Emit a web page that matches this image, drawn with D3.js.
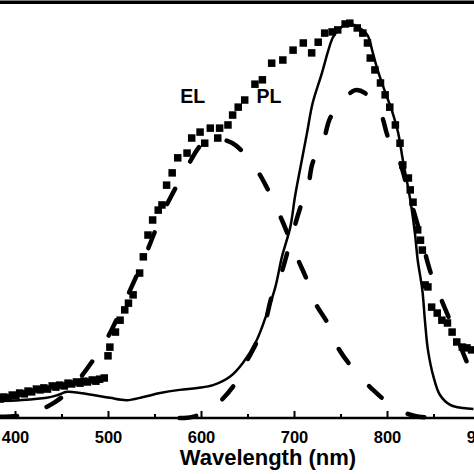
<!DOCTYPE html>
<html>
<head>
<meta charset="utf-8">
<script src="https://cdn.jsdelivr.net/npm/d3@7"></script>
<style>
  html, body { margin: 0; padding: 0; background: #fff; }
  svg { display: block; font-family: "Liberation Sans", Arial, sans-serif; font-weight: bold; }
</style>
</head>
<body>
<div id="chart"></div>
<script>
// [wavelength nm, intensity a.u.]
const EL_POINTS = [
  [384, .048], [388, .053], [393, .051], [397, .058], [401, .056], [405, .063], [410, .061], [414, .068],
  [418, .066], [423, .073], [427, .071], [431, .076], [435, .073], [440, .081], [444, .078], [448, .083],
  [453, .081], [457, .088], [461, .086], [466, .091], [470, .088], [474, .093], [478, .091], [483, .096],
  [487, .093], [491, .098], [496, .101],
  [500, .157], [502, .179], [508, .217], [513, .247], [518, .273], [522, .290], [527, .311], [534, .366],
  [538, .407], [543, .462], [548, .500], [554, .525], [558, .538], [563, .588], [569, .619], [575, .657],
  [585, .669], [590, .707], [599, .722], [604, .694], [610, .732], [618, .707], [620, .732], [629, .740],
  [634, .765], [640, .785], [647, .803], [658, .843], [666, .854], [676, .896], [688, .904], [699, .929],
  [710, .947], [719, .922], [726, .949], [733, .972], [741, .975], [747, .980], [755, .995], [760, .997],
  [768, .985], [774, .972], [779, .947], [782, .909], [787, .879], [793, .846], [798, .816], [803, .785],
  [809, .740], [814, .694], [817, .639], [823, .606], [825, .576], [828, .545], [833, .475], [836, .449],
  [838, .424], [841, .336], [844, .331], [848, .280], [854, .265], [859, .247], [865, .240], [870, .217],
  [875, .192], [881, .179], [886, .177], [891, .172],
];

const PL_POINTS = [
  [384, .043], [405, .045], [434, .051], [446, .058], [456, .066], [470, .063], [484, .058], [502, .051],
  [520, .045], [538, .053], [556, .063], [577, .071], [596, .076], [613, .083], [631, .104], [645, .139],
  [660, .197], [671, .265], [680, .331], [687, .407], [696, .482], [701, .558], [707, .634], [714, .720],
  [720, .795], [730, .871], [737, .929], [742, .962], [750, .985], [758, .997], [769, .987], [779, .967],
  [784, .929], [789, .886], [796, .836], [805, .778], [812, .720], [817, .652], [825, .551], [830, .467],
  [833, .399], [838, .323], [841, .240], [844, .172], [850, .104], [857, .058], [868, .033], [882, .025],
  [893, .023],
];

const FIT1_POINTS = [
  [384, .003], [402, .005], [419, .013], [443, .040], [461, .076], [484, .146], [500, .205], [517, .288],
  [539, .404], [559, .518], [584, .629], [599, .687], [610, .705], [620, .705], [637, .689], [660, .626],
  [671, .581], [687, .500], [703, .407], [714, .348], [723, .290], [736, .240], [747, .179], [763, .126],
  [785, .071], [809, .025], [830, .005], [857, .000],
];

const FIT2_POINTS = [
  [577, .000], [591, .003], [612, .025], [634, .078], [647, .134], [660, .192], [669, .242], [676, .306],
  [685, .356], [693, .419], [699, .470], [707, .533], [715, .583], [720, .644], [731, .694], [739, .758],
  [755, .808], [766, .828], [776, .821], [793, .770], [801, .710], [812, .659], [825, .553], [836, .462],
  [846, .374], [855, .318], [868, .245], [884, .152], [893, .104],
];

const MAJOR_TICKS = [400, 500, 600, 700, 800, 900];
const MINOR_TICKS = [450, 550, 650, 750, 850];
const SERIES_LABELS = [
  { text: "EL", nm: 591, value: .795 },
  { text: "PL", nm: 673, value: .795 },
];

function renderSpectra() {
  const width = 474;
  const height = 474;
  const svg = d3.select("#chart").append("svg").attr("width", width).attr("height", height);

  const x = d3.scaleLinear().domain([400, 900]).range([15, 480]);
  const y = d3.scaleLinear().domain([0, 1.05]).range([418, 2.2]);

  // top frame line
  svg
    .append("line")
    .attr("x1", 0)
    .attr("x2", width)
    .attr("y1", y(1.05))
    .attr("y2", y(1.05))
    .attr("stroke", "#000")
    .attr("stroke-width", 3.5);

  // minor ticks
  svg
    .append("g")
    .attr("transform", `translate(0, ${y(0)})`)
    .call(d3.axisBottom(x).tickValues(MINOR_TICKS).tickSizeInner(-4).tickSizeOuter(0).tickFormat(""))
    .call((g) => g.select(".domain").remove())
    .call((g) => g.selectAll("line").attr("stroke-width", 2));

  // major ticks + labels
  svg
    .append("g")
    .attr("transform", `translate(0, ${y(0)})`)
    .call(d3.axisBottom(x).tickValues(MAJOR_TICKS).tickSizeInner(-7).tickSizeOuter(0).tickPadding(13).tickFormat(d3.format("d")))
    .call((g) => g.select(".domain").remove())
    .call((g) => g.selectAll("line").attr("stroke-width", 2))
    .call((g) =>
      g
        .selectAll("text")
        .attr("fill", "#000")
        .style("font-size", "16.5px")
        .style("font-family", '"Liberation Sans", Arial, sans-serif')
        .style("font-weight", "bold"),
    );

  // axis line across the crop
  svg
    .append("line")
    .attr("x1", 0)
    .attr("x2", width)
    .attr("y1", y(0))
    .attr("y2", y(0))
    .attr("stroke", "#000")
    .attr("stroke-width", 2.5);

  svg
    .append("text")
    .attr("x", x(672))
    .attr("y", 465)
    .attr("text-anchor", "middle")
    .style("font-size", "22px")
    .text("Wavelength (nm)");

  const line = d3
    .line()
    .x((d) => x(d[0]))
    .y((d) => y(d[1]))
    .curve(d3.curveCatmullRom.alpha(0.5));

  [FIT1_POINTS, FIT2_POINTS].forEach((points) => {
    svg
      .append("path")
      .datum(points)
      .attr("d", line)
      .attr("fill", "none")
      .attr("stroke", "#000")
      .attr("stroke-width", 4.5)
      .attr("stroke-linecap", "round")
      .attr("stroke-dasharray", "17,31");
  });

  svg
    .append("path")
    .datum(PL_POINTS)
    .attr("d", line)
    .attr("fill", "none")
    .attr("stroke", "#000")
    .attr("stroke-width", 2.5);

  const size = 7.5;
  svg
    .append("g")
    .selectAll("rect")
    .data(EL_POINTS)
    .join("rect")
    .attr("x", (d) => x(d[0]) - size / 2)
    .attr("y", (d) => y(d[1]) - size / 2)
    .attr("width", size)
    .attr("height", size)
    .attr("fill", "#000");

  svg
    .append("g")
    .selectAll("text")
    .data(SERIES_LABELS)
    .join("text")
    .attr("x", (d) => x(d.nm))
    .attr("y", (d) => y(d.value))
    .attr("text-anchor", "middle")
    .style("font-size", "19.5px")
    .text((d) => d.text);
}

renderSpectra();
</script>
</body>
</html>
